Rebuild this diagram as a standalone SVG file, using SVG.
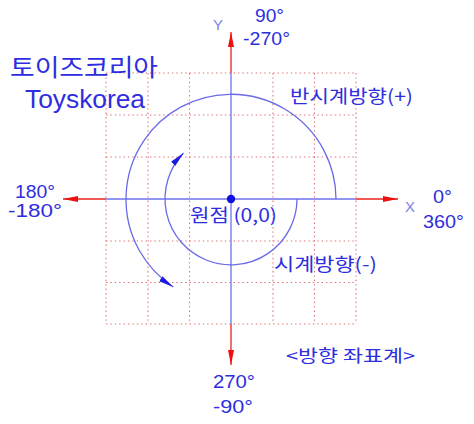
<svg xmlns="http://www.w3.org/2000/svg" width="474" height="424" viewBox="0 0 474 424">
<style>
.t{font-family:"Liberation Sans","Noto Sans CJK KR",Arial,sans-serif;fill:#2e2ee0}
.k{font-family:"Noto Sans CJK KR","Liberation Sans",sans-serif;fill:#2e2ee0}
.grid line{stroke:#e07070;stroke-width:1.1;stroke-dasharray:1.4,3}
.ax{stroke:#7070ee;stroke-width:1.3;fill:none}
.axr{stroke:#ee2020;stroke-width:1.3;fill:none}
.arc{stroke:#6a6ae8;stroke-width:1.3;fill:none}
</style>
<defs>
<marker id="ra" viewBox="0 0 15 6" refX="15" refY="3" markerWidth="15" markerHeight="6" markerUnits="userSpaceOnUse" orient="auto"><path d="M0,0 L15,3 L0,6 z" fill="#ee1010"/></marker>
<marker id="ba" viewBox="0 0 15 6" refX="15" refY="3" markerWidth="15" markerHeight="6" markerUnits="userSpaceOnUse" orient="auto"><path d="M0,0 L15,3 L0,6 z" fill="#1a1ae0"/></marker>
</defs>
<rect width="474" height="424" fill="#fff"/>
<g id="grid" class="grid">
<line x1="106" y1="73" x2="106" y2="324"/>
<line x1="148" y1="73" x2="148" y2="324"/>
<line x1="189.5" y1="73" x2="189.5" y2="324"/>
<line x1="273" y1="73" x2="273" y2="324"/>
<line x1="314.5" y1="73" x2="314.5" y2="324"/>
<line x1="356" y1="73" x2="356" y2="324"/>
<line x1="106" y1="73" x2="356" y2="73"/>
<line x1="106" y1="115" x2="356" y2="115"/>
<line x1="106" y1="157" x2="356" y2="157"/>
<line x1="106" y1="241" x2="356" y2="241"/>
<line x1="106" y1="282.5" x2="356" y2="282.5"/>
<line x1="106" y1="324" x2="356" y2="324"/>
</g>
<g id="connectors">
<line class="ax" x1="106" y1="199" x2="356" y2="199"/>
<line class="ax" x1="231" y1="73" x2="231" y2="324"/>
<line class="axr" x1="356" y1="199" x2="398" y2="199" marker-end="url(#ra)"/>
<line class="axr" x1="106" y1="199" x2="63" y2="199" marker-end="url(#ra)"/>
<line class="axr" x1="231" y1="73" x2="231" y2="32" marker-end="url(#ra)"/>
<line class="axr" x1="231" y1="324" x2="231" y2="365" marker-end="url(#ra)"/>
<path id="ccw" class="arc" d="M336,199 A105,105 0 1 0 173.3,287" marker-end="url(#ba)"/>
<path id="cw" class="arc" d="M297,199 A66,66 0 1 1 183.5,153" marker-end="url(#ba)"/>
</g>
<g id="origin"><circle cx="231" cy="199" r="4.2" fill="#1010e0"/>
<text class="k" x="190" y="222" font-size="18" textLength="87" lengthAdjust="spacingAndGlyphs">원점 (0,0)</text></g>
<g id="title">
<text class="k" x="10" y="76" font-size="24" textLength="148" lengthAdjust="spacingAndGlyphs">토이즈코리아</text>
<text class="t" x="25" y="108" font-size="26" textLength="120" lengthAdjust="spacingAndGlyphs">Toyskorea</text>
</g>
<g id="axis-labels">
<text x="213" y="30" font-family="Liberation Sans,sans-serif" font-size="15" fill="#8080e8">Y</text>
<text x="405" y="212" font-family="Liberation Sans,sans-serif" font-size="15" fill="#8080e8">X</text>
</g>
<g id="angle-90"><text class="t" x="255" y="22" font-size="19" textLength="29" lengthAdjust="spacingAndGlyphs">90°</text>
<text class="t" x="243" y="45" font-size="19" textLength="47" lengthAdjust="spacingAndGlyphs">-270°</text></g>
<g id="angle-180"><text class="t" x="15" y="198" font-size="19" textLength="40" lengthAdjust="spacingAndGlyphs">180°</text>
<text class="t" x="8" y="217" font-size="19" textLength="54" lengthAdjust="spacingAndGlyphs">-180°</text></g>
<g id="angle-0"><text class="t" x="433" y="203" font-size="19" textLength="19" lengthAdjust="spacingAndGlyphs">0°</text>
<text class="t" x="423" y="228" font-size="19" textLength="41" lengthAdjust="spacingAndGlyphs">360°</text></g>
<g id="angle-270"><text class="t" x="213" y="388" font-size="19" textLength="42" lengthAdjust="spacingAndGlyphs">270°</text>
<text class="t" x="213" y="413" font-size="19" textLength="40" lengthAdjust="spacingAndGlyphs">-90°</text></g>
<g id="ccw-label"><text class="k" x="290" y="103" font-size="18" textLength="123" lengthAdjust="spacingAndGlyphs">반시계방향(+)</text></g>
<g id="cw-label"><text class="k" x="274" y="271" font-size="18" textLength="103" lengthAdjust="spacingAndGlyphs">시계방향(-)</text></g>
<g id="caption"><text class="k" x="286" y="362" font-size="17" textLength="129" lengthAdjust="spacingAndGlyphs">&lt;방향 좌표계&gt;</text></g>
</svg>
